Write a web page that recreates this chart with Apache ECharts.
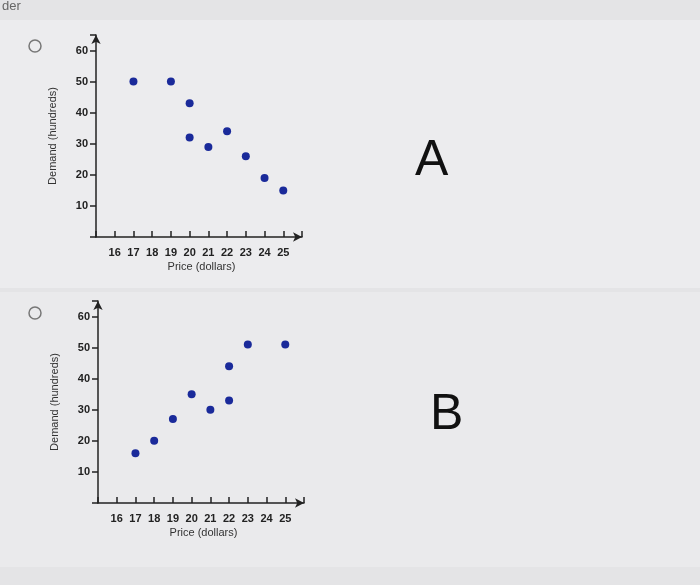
<!DOCTYPE html>
<html>
<head>
<meta charset="utf-8">
<script src="https://cdn.jsdelivr.net/npm/echarts@6/dist/echarts.min.js"></script>
<style>
html, body { margin: 0; padding: 0; background: #e4e4e6; }
#draw { width: 700px; height: 585px; }
</style>
</head>
<body>
<div id="draw"></div>
<script>
// price / demand points
var pricesA = [17, 19, 20, 20, 21, 22, 23, 24, 25];
var demandA = [50, 50, 43, 32, 29, 34, 26, 19, 15];
var pricesB = [17, 18, 19, 20, 21, 22, 22, 23, 25];
var demandB = [16, 20, 27, 35, 30, 44, 33, 51, 51];
var yTicks = [10, 20, 30, 40, 50, 60];

var myChart = echarts.init(document.getElementById('draw'));

function pairs(xs, ys) {
	return xs.map(function(x, i) { return [x, ys[i]]; });
}

function xAxis(idx) {
	return {
		gridIndex : idx, type : 'value', min : 15, max : 26, interval : 1,
		name : 'Price (dollars)', nameLocation : 'middle', nameGap : 24,
		nameTextStyle : { color : '#333', fontSize : 11, fontFamily : 'Liberation Sans', padding : [0, 0, 0, 5] },
		axisLine : { lineStyle : { color : '#222', width : 1.5 }, symbol : ['none', 'arrow'], symbolSize : [7, 9] },
		axisTick : { lineStyle : { color : '#222', width : 1.5 }, length : 6, inside : true },
		axisLabel : {
			color : '#222', fontSize : 11, fontWeight : 'bold', fontFamily : 'Liberation Sans', margin : 10,
			formatter : function(v) { return (v >= 16 && v <= 25) ? v : ''; }
		},
		splitLine : { show : false }
	};
}

function yAxis(idx) {
	return {
		gridIndex : idx, type : 'value', min : 0, max : 65, interval : 10,
		name : 'Demand (hundreds)', nameLocation : 'middle', nameGap : 38,
		nameTextStyle : { color : '#333', fontSize : 11, fontFamily : 'Liberation Sans' },
		axisLine : { lineStyle : { color : '#222', width : 1.5 }, symbol : ['none', 'arrow'], symbolSize : [7, 9] },
		axisTick : { lineStyle : { color : '#222', width : 1.5 }, length : 6 },
		axisLabel : {
			color : '#222', fontSize : 11, fontWeight : 'bold', fontFamily : 'Liberation Sans', margin : 8,
			formatter : function(v) { return yTicks.indexOf(v) >= 0 ? v : ''; }
		},
		splitLine : { show : false }
	};
}

var option = {
	backgroundColor : '#e4e4e6',
	animation : false,
	graphic : [
		{ type : 'rect', shape : { x : 0, y : 20, width : 700, height : 268 }, style : { fill : '#ececee' }, z : -10 },
		{ type : 'rect', shape : { x : 0, y : 292, width : 700, height : 275 }, style : { fill : '#eaeaec' }, z : -10 },
		{ type : 'text', left : 2, top : 0, style : { text : 'der', fill : '#666', fontSize : 13, fontFamily : 'Liberation Sans' } },
		{ type : 'circle', shape : { cx : 35, cy : 46, r : 6 }, style : { fill : 'none', stroke : '#777', lineWidth : 1.5 } },
		{ type : 'circle', shape : { cx : 35, cy : 313, r : 6 }, style : { fill : 'none', stroke : '#777', lineWidth : 1.5 } },
		{ type : 'text', left : 415, top : 136, style : { text : 'A', fill : '#111', fontSize : 50, fontFamily : 'Liberation Sans' } },
		{ type : 'text', left : 430, top : 390, style : { text : 'B', fill : '#111', fontSize : 50, fontFamily : 'Liberation Sans' } }
	],
	grid : [
		{ left : 96, top : 35, width : 206, height : 202 },
		{ left : 98, top : 301, width : 206, height : 202 }
	],
	xAxis : [xAxis(0), xAxis(1)],
	yAxis : [yAxis(0), yAxis(1)],
	series : [ {
		type : 'scatter', xAxisIndex : 0, yAxisIndex : 0,
		data : pairs(pricesA, demandA), symbolSize : 8,
		itemStyle : { color : '#1a2a9a', opacity : 1 }
	}, {
		type : 'scatter', xAxisIndex : 1, yAxisIndex : 1,
		data : pairs(pricesB, demandB), symbolSize : 8,
		itemStyle : { color : '#1a2a9a', opacity : 1 }
	} ]
};
myChart.setOption(option);
</script>
</body>
</html>
